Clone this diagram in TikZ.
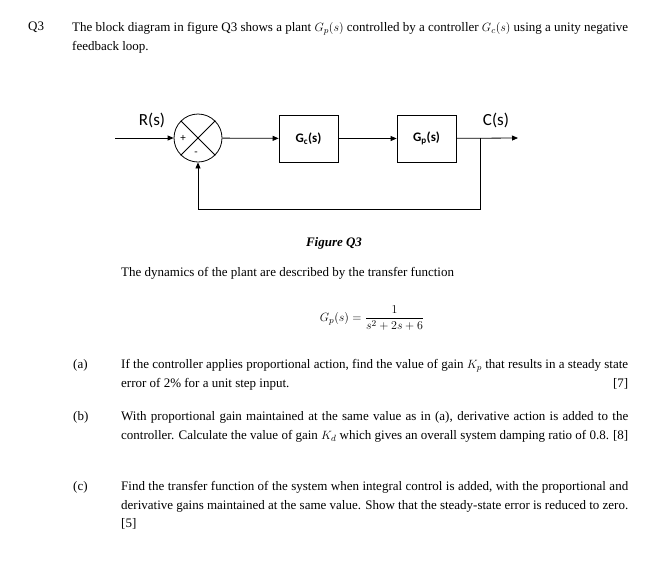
\documentclass[tikz,border=0pt]{standalone}
\usepackage{fontspec}
\setmainfont{Liberation Serif}
\newfontfamily\calfont{Carlito}
\usetikzlibrary{arrows.meta}
\begin{document}
\begin{tikzpicture}[x=1pt,y=-1pt,
  txt/.style={anchor=north west,inner sep=0pt,font=\fontsize{13}{18.8}\selectfont,align=justify},
  blk/.style={draw,thick,minimum width=59pt,minimum height=47pt,font=\calfont\bfseries\fontsize{13}{15}\selectfont},
  arr/.style={-{Triangle[length=6pt,width=5pt]},thick},
  lbl/.style={font=\calfont\fontsize{17}{19}\selectfont}]
\useasboundingbox (0,0) rectangle (671,582);
% header
\node[txt] (q) at (28,22) {Q3};
\node[txt,text width=556pt] (intro) at (72,22) {The block diagram in figure Q3 shows a plant $G_p(s)$ controlled by a controller $G_c(s)$ using a unity negative feedback loop.};
% diagram
\coordinate (in) at (115,138);
\node[draw,thick,circle,minimum size=48pt,inner sep=0pt] (sum) at (198,138) {};
\draw[thick] (sum.north west) -- (sum.south east) (sum.north east) -- (sum.south west);
\node[font=\calfont\fontsize{11}{12}\selectfont] (plus) at (183,138) {+};
\node[font=\calfont\fontsize{11}{12}\selectfont] (minus) at (196,154) {-};
\node[blk] (gc) at (308.5,138.5) {G\textsubscript{c}(s)};
\node[blk] (gp) at (426.5,138.5) {G\textsubscript{p}(s)};
\coordinate (out) at (518,138);
\coordinate (br) at (480,138);
\coordinate (fb) at (480,209);
\coordinate (fb2) at (198,209);
\draw[arr] (in) -- (sum);
\draw[arr] (sum) -- (gc);
\draw[arr] (gc) -- (gp);
\draw[arr] (gp) -- (out);
\draw[arr] (br) -- (fb) -- (fb2) -- (sum);
\node[lbl] (r) at (152,120) {R(s)};
\node[lbl] (c) at (496,120) {C(s)};
\node[font=\fontsize{13}{15}\selectfont\bfseries\itshape] (cap) at (334,243) {Figure Q3};
\node[txt] (dyn) at (121,267) {The dynamics of the plant are described by the transfer function};
\node[font=\fontsize{13}{15}\selectfont] (eq) at (372,318) {$\displaystyle G_p(s)=\frac{1}{s^2+2s+6}$};
% parts
\node[txt] (la) at (73,359) {(a)};
\node[txt,text width=507pt] (ta) at (121,359) {If the controller applies proportional action, find the value of gain $K_p$ that results in a steady state error of 2\% for a unit step input.\hfill[7]};
\node[txt] (lb) at (73,411) {(b)};
\node[txt,text width=507pt] (tb) at (121,411) {With proportional gain maintained at the same value as in (a), derivative action is added to the controller. Calculate the value of gain $K_d$ which gives an overall system damping ratio of 0.8.\hfill[8]};
\node[txt] (lc) at (73,481) {(c)};
\node[txt,text width=507pt] (tc) at (121,481) {Find the transfer function of the system when integral control is added, with the proportional and derivative gains maintained at the same value. Show that the steady-state error is reduced to zero.\hfill[5]};
\end{tikzpicture}
\end{document}
